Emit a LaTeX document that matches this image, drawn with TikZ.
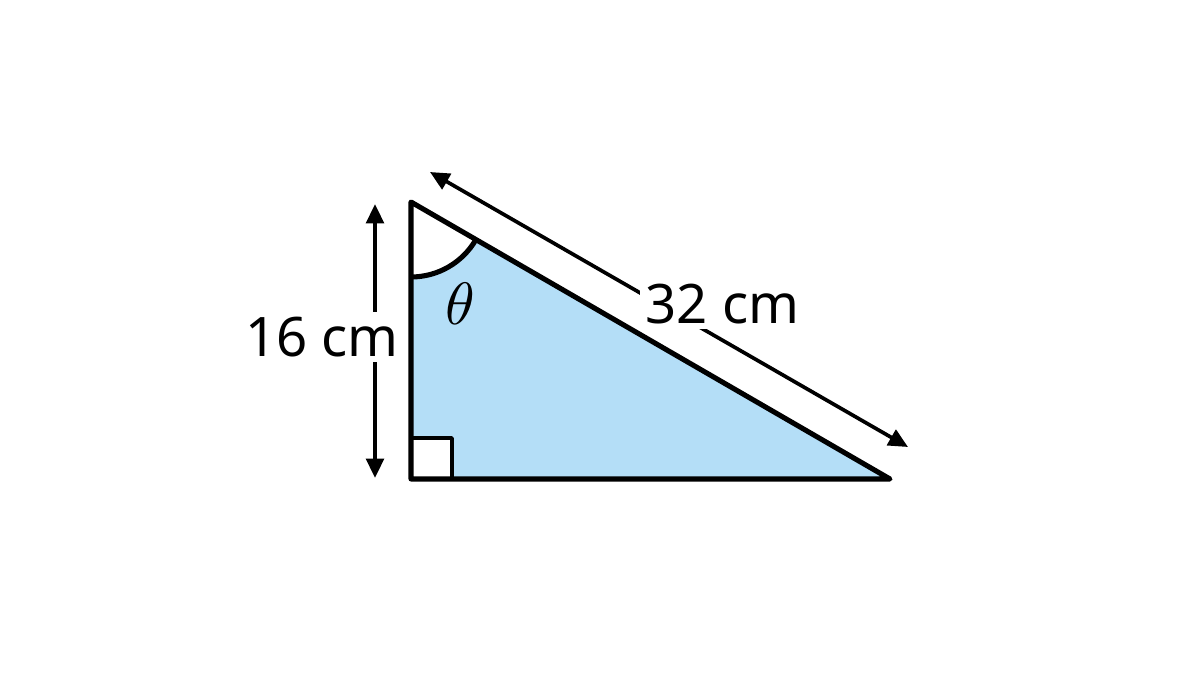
\documentclass[tikz,border=0pt]{standalone}
\usepackage{fontspec}
\setmainfont{Noto Sans}
\usetikzlibrary{arrows.meta,positioning}
\definecolor{triblue}{RGB}{180,222,247}

\begin{document}
\begin{tikzpicture}[line join=round,
	side/.style={line width=2.9pt},
	measure/.style={line width=2.1pt,{Triangle[length=11pt,width=10pt]}-{Triangle[length=11pt,width=10pt]}},
	lbl/.style={fill=white,inner sep=3pt,font=\fontsize{31}{36}\selectfont}]
	\useasboundingbox (0,0) rectangle (24,13.5);
	\coordinate (A) at (8.22,9.46);
	\coordinate (B) at (8.22,3.92);
	\coordinate (C) at (17.8,3.92);
	\coordinate (h1) at (7.5,9.42);
	\coordinate (h2) at (7.5,3.94);
	\coordinate (d1) at (8.6,10.06);
	\coordinate (d2) at (18.16,4.56);
	\draw[measure] (h1) -- (h2);
	\draw[measure] (d1) -- (d2);
	\node[lbl](short) at (6.44,6.76) {16 cm};
	\node[lbl](long) at (14.45,7.42) {32 cm};
	\fill[triblue] (A) -- (B) -- (C) -- cycle;
	\fill[white] (A) -- ([yshift=-1.5cm]A) arc[start angle=-90,end angle=-30,radius=1.5] -- cycle;
	\draw[line width=2.1pt,fill=white] (B) rectangle ++(0.82,0.82);
	\draw[side] ([yshift=-1.5cm]A) arc[start angle=-90,end angle=-30,radius=1.5];
	\draw[side] (A) -- (B) -- (C) -- cycle;
	\node[scale=3.4](theta) at (9.2,7.42) {$\theta$};
\end{tikzpicture}
\end{document}
